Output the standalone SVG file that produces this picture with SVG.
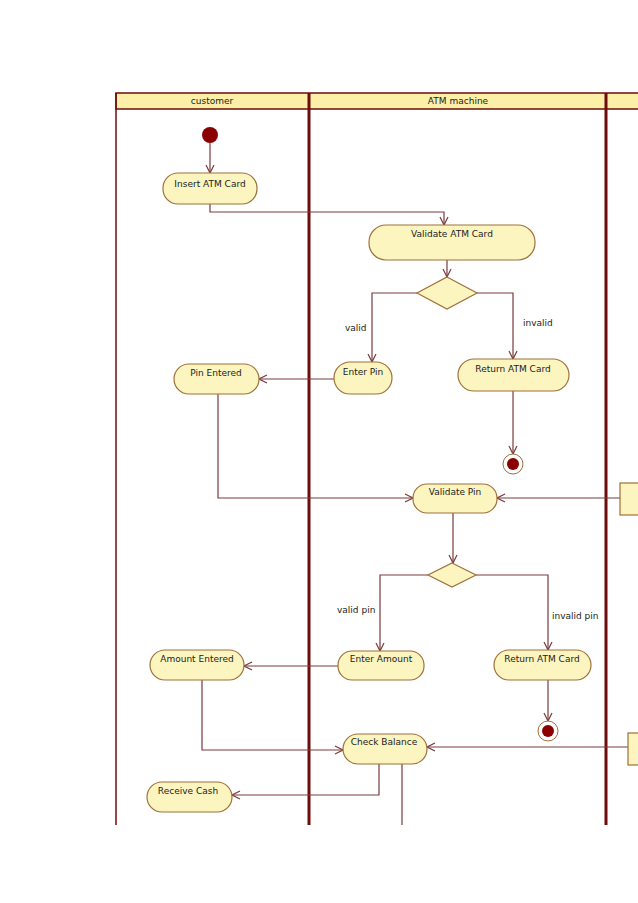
<svg xmlns="http://www.w3.org/2000/svg" width="638" height="903" viewBox="0 0 638 903">
<style>
.a{fill:#fcf5c0;stroke:#a0703a;stroke-width:1.2}
.t{font-family:"DejaVu Sans",sans-serif;font-size:9px;fill:#222;text-anchor:middle}
.l{font-family:"DejaVu Sans",sans-serif;font-size:9px;fill:#222}
.c{fill:none;stroke:#7a3b3b;stroke-width:1.2}
.lane{stroke:#6e0c0c;stroke-width:3}
</style>
<defs><marker id="m" markerWidth="10" markerHeight="10" refX="9" refY="5" orient="auto" markerUnits="userSpaceOnUse"><path d="M1,1 L9,5 L1,9" fill="none" stroke="#7a3b3b" stroke-width="1.2"/></marker></defs>
<rect width="638" height="903" fill="#fff"/>
<g id="lanes">
<rect x="116" y="93" width="530" height="16" fill="#fcefa8" stroke="#6e0c0c" stroke-width="1.5"/>
<line x1="116" y1="93" x2="116" y2="825" stroke="#6e0c0c" stroke-width="1.5"/>
<line class="lane" x1="309" y1="93" x2="309" y2="825"/>
<line class="lane" x1="606" y1="93" x2="606" y2="825"/>
<text class="t" x="212" y="104" font-size="8">customer</text>
<text class="t" x="458" y="104" font-size="8">ATM machine</text>
</g>
<g id="connectors">
<path class="c" d="M210,143 V173" marker-end="url(#m)"/>
<path class="c" d="M210,204 V212 H444 V225" marker-end="url(#m)"/>
<path class="c" d="M447,260 V277" marker-end="url(#m)"/>
<path class="c" d="M417,293 H372 V362" marker-end="url(#m)"/>
<path class="c" d="M477,293 H513 V359" marker-end="url(#m)"/>
<path class="c" d="M334,379 H259" marker-end="url(#m)"/>
<path class="c" d="M513,391 V454" marker-end="url(#m)"/>
<path class="c" d="M218,394 V498 H413" marker-end="url(#m)"/>
<path class="c" d="M620,498 H497" marker-end="url(#m)"/>
<path class="c" d="M453,513 V563" marker-end="url(#m)"/>
<path class="c" d="M428,575 H380 V651" marker-end="url(#m)"/>
<path class="c" d="M476,575 H548 V650" marker-end="url(#m)"/>
<path class="c" d="M338,666 H244" marker-end="url(#m)"/>
<path class="c" d="M548,680 V721" marker-end="url(#m)"/>
<path class="c" d="M202,680 V750 H343" marker-end="url(#m)"/>
<path class="c" d="M628,747 H427" marker-end="url(#m)"/>
<path class="c" d="M379,764 V795 H232" marker-end="url(#m)"/>
<path class="c" d="M402,764 V825"/>
<text class="l" x="345" y="331">valid</text>
<text class="l" x="523" y="326">invalid</text>
<text class="l" x="337" y="613">valid pin</text>
<text class="l" x="552" y="619">invalid pin</text>
</g>
<g id="start"><circle cx="210" cy="135" r="8" fill="#8b0000"/></g>
<g id="insert"><rect class="a" x="163" y="173" width="94" height="31" rx="15"/><text class="t" x="210" y="187">Insert ATM Card</text></g>
<g id="validateCard"><rect class="a" x="369" y="225" width="166" height="35" rx="17"/><text class="t" x="452" y="237">Validate ATM Card</text></g>
<g id="d1"><polygon class="a" points="447,277 477,293 447,309 417,293"/></g>
<g id="enterPin"><rect class="a" x="334" y="362" width="58" height="32" rx="16"/><text class="t" x="363" y="375">Enter Pin</text></g>
<g id="ret1"><rect class="a" x="458" y="359" width="111" height="32" rx="16"/><text class="t" x="513" y="372">Return ATM Card</text></g>
<g id="pinEntered"><rect class="a" x="174" y="364" width="85" height="30" rx="15"/><text class="t" x="216" y="376">Pin Entered</text></g>
<g id="end1"><circle cx="513" cy="464" r="10" fill="#fff" stroke="#a0703a"/><circle cx="513" cy="464" r="6" fill="#8b0000"/></g>
<g id="validatePin"><rect class="a" x="413" y="484" width="84" height="29" rx="14"/><text class="t" x="455" y="495">Validate Pin</text></g>
<g id="ext1"><rect class="a" x="620" y="483" width="26" height="32" fill="#fcefa8"/></g>
<g id="d2"><polygon class="a" points="452,563 476,575 452,587 428,575"/></g>
<g id="enterAmount"><rect class="a" x="338" y="651" width="86" height="29" rx="14"/><text class="t" x="381" y="662">Enter Amount</text></g>
<g id="ret2"><rect class="a" x="494" y="650" width="97" height="30" rx="15"/><text class="t" x="542" y="662">Return ATM Card</text></g>
<g id="amountEntered"><rect class="a" x="150" y="650" width="94" height="30" rx="15"/><text class="t" x="197" y="662">Amount Entered</text></g>
<g id="end2"><circle cx="548" cy="731" r="10" fill="#fff" stroke="#a0703a"/><circle cx="548" cy="731" r="6" fill="#8b0000"/></g>
<g id="checkBalance"><rect class="a" x="343" y="734" width="84" height="30" rx="15"/><text class="t" x="384" y="745">Check Balance</text></g>
<g id="ext2"><rect class="a" x="628" y="733" width="20" height="32"/></g>
<g id="receiveCash"><rect class="a" x="147" y="782" width="85" height="30" rx="15"/><text class="t" x="188" y="794">Receive Cash</text></g>
</svg>
